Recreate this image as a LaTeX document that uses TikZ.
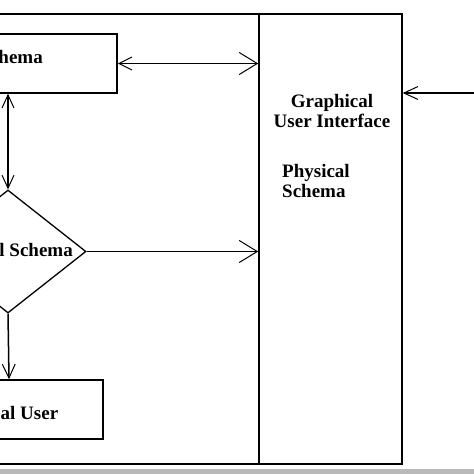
\documentclass[tikz,border=0pt]{standalone}
\usepackage{fontspec}
\setmainfont{Liberation Serif}
\usetikzlibrary{shapes.geometric,arrows.meta}

\begin{document}
\begin{tikzpicture}[x=1pt,y=-1pt,
  box/.style={draw, line width=1.6pt, inner sep=0pt},
  txt/.style={font=\fontsize{19}{20}\selectfont\bfseries, inner sep=0pt},
  flow/.style={line width=1.5pt},
  twoway/.style={flow, {Straight Barb[length=13pt,width=13pt,line width=1pt]}-{Straight Barb[length=18pt,width=22pt,line width=1pt]}},
  updown/.style={flow, {Straight Barb[length=13pt,width=12pt,line width=1pt]}-{Straight Barb[length=13pt,width=12pt,line width=1pt]}},
  bigto/.style={flow, -{Straight Barb[length=18pt,width=22pt,line width=1pt]}},
  smallto/.style={flow, -{Straight Barb[length=14pt,width=13pt,line width=1pt]}}]
\useasboundingbox (0,0) rectangle (474,474);
\clip (0,0) rectangle (474,474);

% Outer frame (cut off on the left)
\draw[line width=1.6pt] (-200,14) rectangle (402,464);
\fill[gray!55] (0,469) rectangle (474,474);

% Left column: boxes and diamond
\node[box, minimum width=218pt, minimum height=59pt] (concept) at (8,63.5) {};
\node[txt, anchor=base east] (concepttext) at (43,63) {hema};
\node[draw, diamond, line width=1.3pt, minimum width=156pt, minimum height=123pt, inner sep=0pt] (logical) at (8,251.5) {};
\node[txt, anchor=base east] (logicaltext) at (73,256) {l Schema};
\node[box, minimum width=188pt, minimum height=59pt] (user) at (9,409.5) {};
\node[txt, anchor=base west] (usertext) at (0.5,419) {al User};

% Right column
\node[box, minimum width=143pt, minimum height=450pt] (gui) at (330.5,239) {};
\node[txt, anchor=north, align=center] (guitext) at (332,94) {Graphical\\User Interface};
\node[txt, anchor=north west, align=left] (physical) at (282,164) {Physical\\Schema};

% Connectors
\draw[twoway] (concept.east) -- (concept.east -| gui.west);
\draw[updown] (concept.south) -- (logical.north);
\draw[bigto] (logical.east) -- (logical.east -| gui.west);
\draw[smallto] (logical.south) -- (user.north);
\coordinate (input) at (474,93);
\draw[smallto] (input) -- (input -| gui.east);
\end{tikzpicture}
\end{document}
